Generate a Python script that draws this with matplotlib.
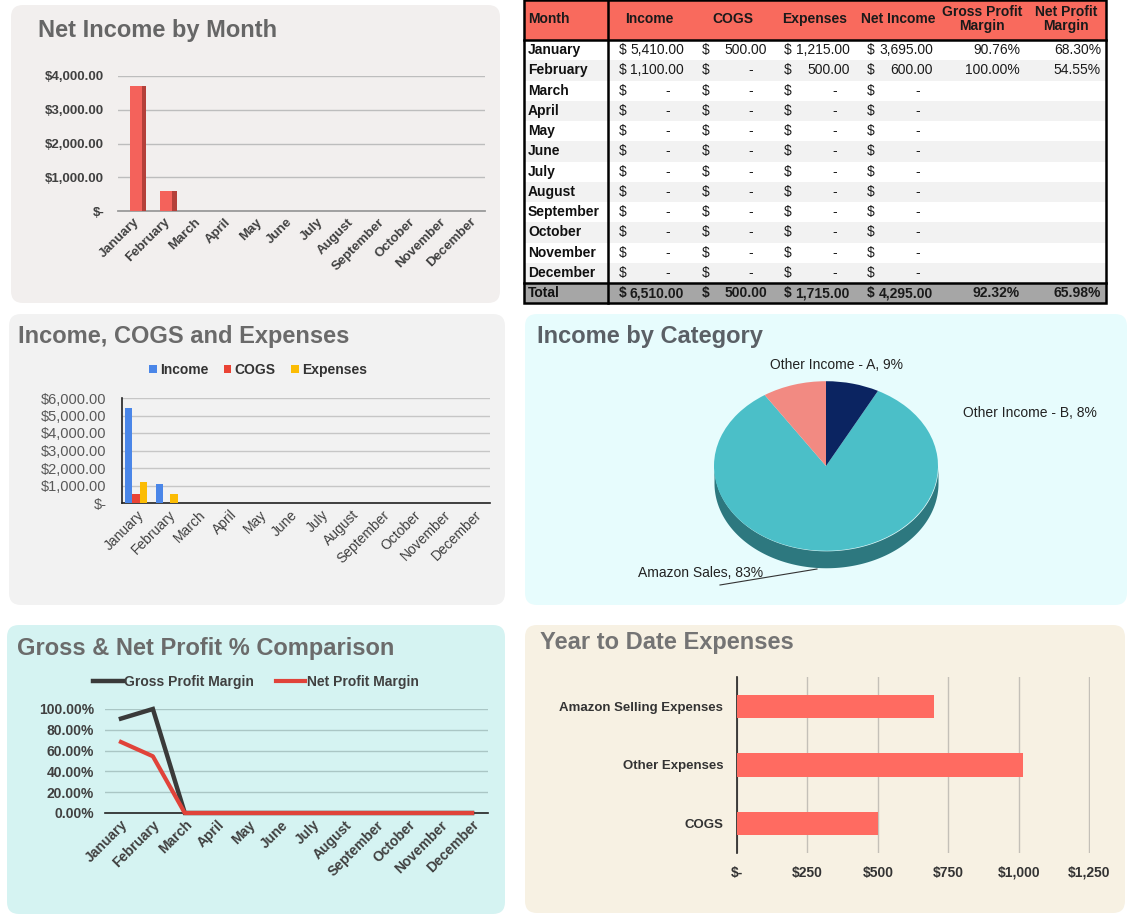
import numpy as np
import matplotlib.pyplot as plt
from matplotlib.patches import FancyBboxPatch, Rectangle
from matplotlib.ticker import FuncFormatter, MultipleLocator

plt.rcParams['font.family'] = ['Liberation Sans', 'DejaVu Sans']

# ---- data ----
months = ['January', 'February', 'March', 'April', 'May', 'June', 'July',
          'August', 'September', 'October', 'November', 'December']
income = [5410, 1100, 0, 0, 0, 0, 0, 0, 0, 0, 0, 0]
cogs = [500, 0, 0, 0, 0, 0, 0, 0, 0, 0, 0, 0]
expenses = [1215, 500, 0, 0, 0, 0, 0, 0, 0, 0, 0, 0]

income_cats = ['Amazon Sales', 'Other Income - A', 'Other Income - B']
income_cat_vals = [5410, 600, 500]
income_cat_colors = ['#4bbfc8', '#f28a82', '#0b2461']

exp_cats = ['Amazon Selling Expenses', 'Other Expenses', 'COGS']
exp_vals = [700, 1015, 500]

# derived values
inc = np.array(income, float)
cg = np.array(cogs, float)
ex = np.array(expenses, float)
net = inc - cg - ex
gross_m = np.divide(inc - cg, inc, out=np.zeros_like(inc), where=inc > 0)
net_m = np.divide(net, inc, out=np.zeros_like(inc), where=inc > 0)

W, H = 1140, 918


def box(x0, y0, x1, y1):
    return [x0 / W, 1 - y1 / H, (x1 - x0) / W, (y1 - y0) / H]


def money2(v, pos=None):
    return '$-' if v == 0 else f'${v:,.2f}'


def money0(v, pos=None):
    return '$-' if v == 0 else f'${v:,.0f}'


fig = plt.figure(figsize=(11.4, 9.18), dpi=100)
bg = fig.add_axes([0, 0, 1, 1])
bg.set_xlim(0, W)
bg.set_ylim(H, 0)
bg.axis('off')

# panels
panels = [(11, 5, 500, 303, '#f2efee'), (9, 314, 505, 605, '#f2f2f2'),
          (525, 314, 1127, 605, '#e7fcfd'), (7, 625, 505, 914, '#d5f3f2'),
          (525, 625, 1125, 913, '#f7f1e3')]
for x0, y0, x1, y1, c in panels:
    bg.add_patch(FancyBboxPatch((x0, y0), x1 - x0, y1 - y0,
                                boxstyle='round,pad=0,rounding_size=12',
                                fc=c, ec='none'))

titles = [(38, 30, 'Net Income by Month', '#666666'),
          (18, 337, 'Income, COGS and Expenses', '#6a6a6a'),
          (537, 336, 'Income by Category', '#5a6066'),
          (17, 648, 'Gross & Net Profit % Comparison', '#6b6b6b'),
          (540, 643, 'Year to Date Expenses', '#747474')]
for x, y, t, c in titles:
    bg.text(x, y, t, fontsize=17, fontweight='bold', color=c, va='center')

# ---- table ----
tx0, tx1 = 524, 1106
row_h = 20.25
fs = 10
bg.add_patch(Rectangle((tx0, 0), tx1 - tx0, 40, fc='#f96a5d', ec='none'))
for i in range(12):
    if i % 2 == 1:
        bg.add_patch(Rectangle((tx0, 40 + i * row_h), tx1 - tx0, row_h,
                               fc='#f2f2f2', ec='none'))
bg.add_patch(Rectangle((tx0, 283), tx1 - tx0, 20, fc='#a6a6a6', ec='none'))
bg.add_patch(Rectangle((tx0, 0), tx1 - tx0, 303, fc='none', ec='black', lw=1.8))
bg.plot([607.5, 607.5], [0, 303], color='black', lw=1.8)
bg.plot([tx0, tx1], [40, 40], color='black', lw=1.8)
bg.plot([tx0, tx1], [283, 283], color='black', lw=1.8)

hdr_kw = dict(fontsize=fs, fontweight='bold', color='#1a1a1a', va='center',
              ha='center', linespacing=1.05)
bg.text(528, 19, 'Month', **{**hdr_kw, 'ha': 'left'})
for x, t in [(649, 'Income'), (733, 'COGS'), (815, 'Expenses'),
             (898, 'Net Income'), (982, 'Gross Profit\nMargin'),
             (1066, 'Net Profit\nMargin')]:
    bg.text(x, 19, t, **hdr_kw)

dollar_x = [619, 702, 784, 867]
val_x = [684, 767, 850, 933]
dash_x = [668, 751, 835, 918]


def money_row(y, vals, weight):
    for k, v in enumerate(vals):
        bg.text(dollar_x[k], y, '$', fontsize=fs, fontweight=weight,
                color='#1a1a1a', va='center', ha='left')
        if v == 0:
            bg.text(dash_x[k], y, '-', fontsize=fs, fontweight=weight,
                    color='#1a1a1a', va='center', ha='center')
        else:
            bg.text(val_x[k], y, f'{v:,.2f}', fontsize=fs, fontweight=weight,
                    color='#1a1a1a', va='center', ha='right')


for i, m in enumerate(months):
    y = 40 + row_h * (i + 0.5)
    bg.text(528, y, m, fontsize=fs, fontweight='bold', color='#111111',
            va='center')
    money_row(y, [inc[i], cg[i], ex[i], net[i]], 'normal')
    if inc[i] > 0:
        bg.text(1020, y, f'{gross_m[i] * 100:.2f}%', fontsize=fs,
                color='#1a1a1a', va='center', ha='right')
        bg.text(1101, y, f'{net_m[i] * 100:.2f}%', fontsize=fs,
                color='#1a1a1a', va='center', ha='right')

ty = 293
bg.text(528, ty, 'Total', fontsize=fs, fontweight='bold', color='#111111',
        va='center')
money_row(ty, [inc.sum(), cg.sum(), ex.sum(), net.sum()], 'bold')
bg.text(1020, ty, f'{(inc.sum() - cg.sum()) / inc.sum() * 100:.2f}%',
        fontsize=fs, fontweight='bold', color='#1a1a1a', va='center', ha='right')
bg.text(1101, ty, f'{net.sum() / inc.sum() * 100:.2f}%', fontsize=fs,
        fontweight='bold', color='#1a1a1a', va='center', ha='right')

x = np.arange(len(months))

# ---- Net Income by Month ----
ax1 = fig.add_axes(box(118, 76, 485, 211))
ax1.set_facecolor('none')
ax1.bar(x + 0.08, net, width=0.39, color='#f4625b', zorder=3)
ax1.bar(x + 0.275, net, width=0.15, align='edge', color='#b4403a', zorder=3)
ax1.set_ylim(0, 4000)
ax1.set_xlim(-0.5, 11.5)
ax1.yaxis.set_major_locator(MultipleLocator(1000))
ax1.yaxis.set_major_formatter(FuncFormatter(money2))
ax1.grid(axis='y', color='#bdbdbd', lw=1)
for s in ['top', 'right', 'left']:
    ax1.spines[s].set_visible(False)
ax1.spines['bottom'].set_color('#9a9a9a')
ax1.spines['bottom'].set_linewidth(1.3)
ax1.tick_params(length=0)
ax1.tick_params(axis='y', pad=10, labelsize=9.5, labelcolor='#404040')
ax1.set_xticks(x)
ax1.set_xticklabels(months, rotation=45, ha='right', rotation_mode='anchor',
                    fontsize=9.5, fontweight='bold', color='#404040')
for lab in ax1.get_yticklabels():
    lab.set_fontweight('bold')

# ---- Income, COGS and Expenses ----
ax3 = fig.add_axes(box(122, 398, 490, 503))
ax3.set_facecolor('none')
bw = 0.24
ax3.bar(x - 0.28, inc, width=bw, color='#4a86e8', label='Income', zorder=3)
ax3.bar(x - 0.04, cg, width=bw, color='#ea4335', label='COGS', zorder=3)
ax3.bar(x + 0.20, ex, width=bw, color='#fbbc04', label='Expenses', zorder=3)
ax3.set_ylim(0, 6000)
ax3.set_xlim(-0.5, 11.5)
ax3.yaxis.set_major_locator(MultipleLocator(1000))
ax3.yaxis.set_major_formatter(FuncFormatter(money2))
ax3.grid(axis='y', color='#c6c6c6', lw=1)
for s in ['top', 'right']:
    ax3.spines[s].set_visible(False)
for s in ['bottom', 'left']:
    ax3.spines[s].set_color('#222222')
    ax3.spines[s].set_linewidth(1.2)
ax3.tick_params(length=0)
ax3.tick_params(axis='y', pad=11, labelsize=10.5, labelcolor='#595959')
ax3.set_xticks(x)
ax3.set_xticklabels(months, rotation=45, ha='right', rotation_mode='anchor',
                    fontsize=10, color='#404040')
ax3.legend(loc='center', bbox_to_anchor=(258 / W, 1 - 370 / H),
           bbox_transform=fig.transFigure, ncol=3, frameon=False,
           handlelength=0.55, handleheight=0.55, handletextpad=0.25,
           columnspacing=1.1, prop={'size': 10, 'weight': 'bold'},
           labelcolor='#333333')

# ---- Income by Category (3D-looking pie) ----
pax = fig.add_axes(box(686, 360, 966, 572))
pax.set_facecolor('none')
depth = 0.2
t = np.linspace(np.pi, 2 * np.pi, 200)
pax.fill_between(np.cos(t), np.sin(t) - depth, np.sin(t), color='#2d787f', lw=0)
total_inc = sum(income_cat_vals)
pax.pie(income_cat_vals, colors=income_cat_colors, counterclock=False,
        startangle=90 - 360 * income_cat_vals[2] / total_inc,
        wedgeprops=dict(linewidth=0))
pax.set_aspect('auto')
pax.set_xlim(-1.25, 1.25)
pax.set_ylim(-1.25, 1.25)
pax.axis('off')

pct = [round(v / total_inc * 100) for v in income_cat_vals]
lab_pos = [(638, 573, 'left'), (836, 365, 'center'), (963, 413, 'left')]
for (lx, ly, ha), name, p in zip(lab_pos, income_cats, pct):
    bg.text(lx, ly, f'{name}, {p}%', fontsize=10, color='#222222',
            ha=ha, va='center')
bg.plot([720, 817], [585, 569], color='#333333', lw=0.8)

# ---- Gross & Net Profit % ----
ax5 = fig.add_axes(box(105, 709, 488, 813))
ax5.set_facecolor('none')
ax5.plot(x, gross_m, color='#3a3a3a', lw=3.2, label='Gross Profit Margin',
         clip_on=False, zorder=3, solid_joinstyle='miter')
ax5.plot(x, net_m, color='#e0433a', lw=3, label='Net Profit Margin',
         clip_on=False, zorder=3)
ax5.set_ylim(0, 1)
ax5.set_xlim(-0.5, 11.5)
ax5.yaxis.set_major_locator(MultipleLocator(0.2))
ax5.yaxis.set_major_formatter(FuncFormatter(lambda v, p: f'{v * 100:.2f}%'))
ax5.grid(axis='y', color='#aac6c5', lw=1)
for s in ['top', 'right', 'left']:
    ax5.spines[s].set_visible(False)
ax5.spines['bottom'].set_color('#222222')
ax5.spines['bottom'].set_linewidth(1.2)
ax5.tick_params(length=0)
ax5.tick_params(axis='y', pad=8, labelsize=10, labelcolor='#404040')
for lab in ax5.get_yticklabels():
    lab.set_fontweight('bold')
ax5.set_xticks(x)
ax5.set_xticklabels(months, rotation=45, ha='right', rotation_mode='anchor',
                    fontsize=10, fontweight='bold', color='#404040')
ax5.legend(loc='center', bbox_to_anchor=(256 / W, 1 - 682 / H),
           bbox_transform=fig.transFigure, ncol=2, frameon=False,
           handlelength=2.1, handletextpad=0.1, columnspacing=1.6,
           prop={'size': 10, 'weight': 'bold'}, labelcolor='#404040')

# ---- Year to Date Expenses ----
ax6 = fig.add_axes(box(737, 677, 1090, 853))
ax6.set_facecolor('none')
ypos = np.arange(len(exp_cats))[::-1]
ax6.barh(ypos, exp_vals, height=0.4, color='#ff6b61', zorder=3)
ax6.set_xlim(0, 1252)
ax6.set_ylim(-0.5, 2.5)
ax6.xaxis.set_major_locator(MultipleLocator(250))
ax6.xaxis.set_major_formatter(FuncFormatter(money0))
ax6.grid(axis='x', color='#c4c0b8', lw=1)
for s in ['top', 'right', 'bottom']:
    ax6.spines[s].set_visible(False)
ax6.spines['left'].set_color('#222222')
ax6.spines['left'].set_linewidth(1.2)
ax6.tick_params(length=0)
ax6.tick_params(axis='x', pad=9, labelsize=10, labelcolor='#333333')
ax6.set_yticks(ypos)
ax6.set_yticklabels(exp_cats, fontsize=9.5, fontweight='bold', color='#333333')
ax6.tick_params(axis='y', pad=10)
for lab in ax6.get_xticklabels():
    lab.set_fontweight('bold')

fig.savefig('out.png', dpi=100)
